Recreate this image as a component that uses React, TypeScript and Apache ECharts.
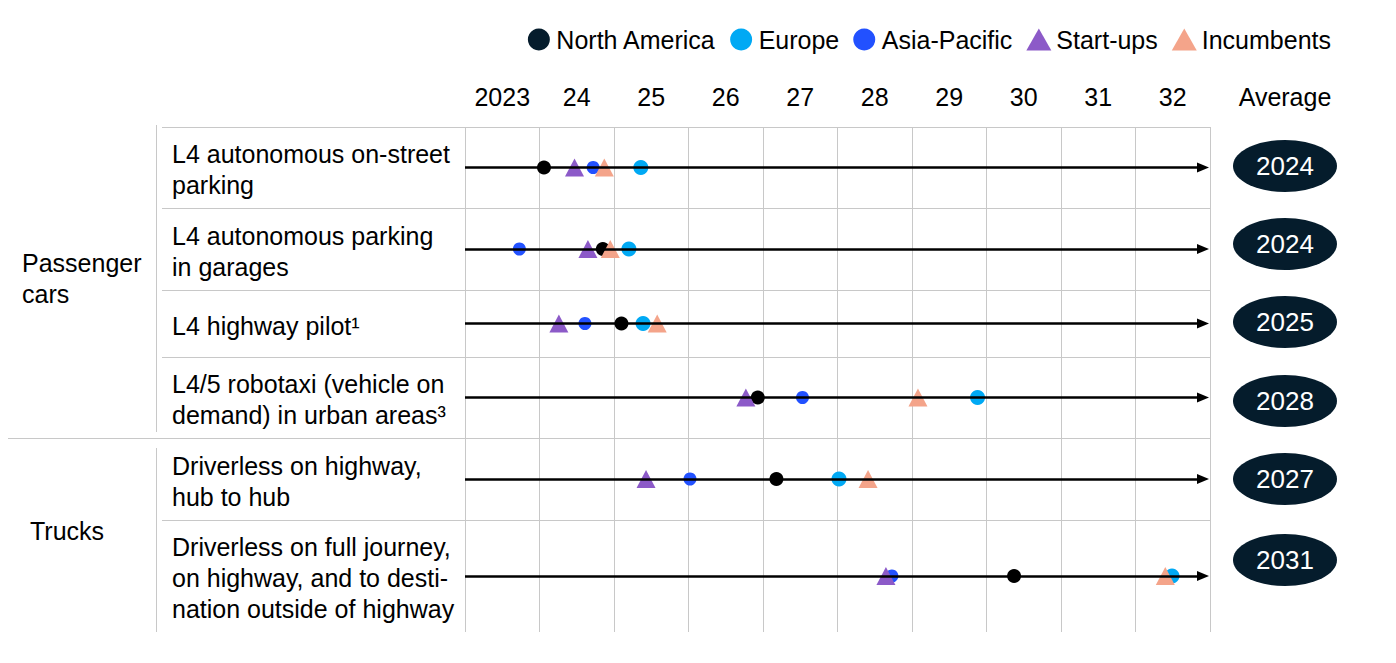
import React, { useEffect, useRef } from "react";
import * as echarts from "echarts";

// ---------- data ----------
const yearLabels = ["2023", "24", "25", "26", "27", "28", "29", "30", "31", "32"];
const rowLabels = [
  "L4 autonomous on-street\nparking",
  "L4 autonomous parking\nin garages",
  "L4 highway pilot¹",
  "L4/5 robotaxi (vehicle on\ndemand) in urban areas³",
  "Driverless on highway,\nhub to hub",
  "Driverless on full journey,\non highway, and to desti-\nnation outside of highway",
];
const groupLabels = ["Passenger\ncars", "Trucks"];
const groupRows = [
  [0, 3],
  [4, 5],
];
const northAmerica = [2024.06, 2024.85, 2025.1, 2026.93, 2027.18, 2030.37];
const europe = [2025.36, 2025.2, 2025.39, 2029.88, 2028.02, 2032.49];
const asiaPacific = [2024.72, 2023.73, 2024.61, 2027.53, 2026.02, 2028.73];
const startUps = [2024.47, 2024.65, 2024.26, 2026.77, 2025.43, 2028.65];
const incumbents = [2024.87, 2024.95, 2025.58, 2029.08, 2028.41, 2032.4];
const averages = ["2024", "2024", "2025", "2028", "2027", "2031"];

// ---------- layout ----------
const W = 1396;
const H = 663;
const plotLeft = 465;
const plotRight = 1210;
const plotTop = 127;
const rowHeights = [81, 82, 67, 81, 82, 112];
const totalH = rowHeights.reduce((a, b) => a + b, 0);
const plotBottom = plotTop + totalH;
const xMin = 2023;
const xMax = 2033;
const FONT = '"Liberation Sans", Arial, Helvetica, sans-serif';
const GRID = "#c8c8c8";
const NAVY = "#051c2c";
const badgeDy = [-1.5, -5, -1.5, 3.5, 0, -16];
const groupLabelX = [22, 30];

const rowStart = (i: number) => rowHeights.slice(0, i).reduce((a, b) => a + b, 0);
const rowCenter = (i: number) => rowStart(i) + rowHeights[i] / 2;

export default function App() {
  const ref = useRef<HTMLDivElement>(null);

  useEffect(() => {
    if (!ref.current) return;
    const chart = echarts.init(ref.current, null, { renderer: "svg" });

    const mk = (vals: number[]) => vals.map((v, i) => [v, rowCenter(i)]);

    const graphics: any[] = [];
    // top border
    graphics.push({
      type: "line",
      shape: { x1: 162, y1: plotTop + 0.5, x2: plotRight, y2: plotTop + 0.5 },
      style: { stroke: GRID, lineWidth: 1 },
    });
    // row separators
    for (let i = 1; i < rowHeights.length; i++) {
      const y = plotTop + rowStart(i) + 0.5;
      const isGroupBoundary = groupRows.some((g) => g[0] === i);
      graphics.push({
        type: "line",
        shape: { x1: isGroupBoundary ? 8 : 162, y1: y, x2: plotRight, y2: y },
        style: { stroke: GRID, lineWidth: 1 },
      });
    }
    // group vertical bars + labels
    groupRows.forEach((g, gi) => {
      const y0 = plotTop + rowStart(g[0]);
      const y1 = plotTop + rowStart(g[1]) + rowHeights[g[1]];
      graphics.push({
        type: "line",
        shape: { x1: 156.5, y1: gi === 0 ? y0 - 2 : y0 + 10, x2: 156.5, y2: gi === 0 ? y1 - 6 : y1 },
        style: { stroke: GRID, lineWidth: 1 },
      });
      graphics.push({
        type: "text",
        x: groupLabelX[gi],
        y: (y0 + y1) / 2 - 4,
        style: {
          text: groupLabels[gi],
          fill: "#000",
          fontSize: 25,
          fontFamily: FONT,
          align: "left",
          verticalAlign: "middle",
          lineHeight: 31,
        },
      });
    });
    // row labels
    rowLabels.forEach((t, i) => {
      graphics.push({
        type: "text",
        x: 172,
        y: plotTop + rowCenter(i) + 2,
        style: {
          text: t,
          fill: "#000",
          fontSize: 25,
          fontFamily: FONT,
          align: "left",
          verticalAlign: "middle",
          lineHeight: 31,
        },
      });
    });
    // Average header
    graphics.push({
      type: "text",
      x: 1285,
      y: 97,
      style: {
        text: "Average",
        fill: "#000",
        fontSize: 25,
        fontFamily: FONT,
        align: "center",
        verticalAlign: "middle",
      },
    });
    // badges
    averages.forEach((a, i) => {
      const cy = plotTop + rowCenter(i) + badgeDy[i];
      graphics.push({
        type: "ellipse",
        shape: { cx: 1285, cy, rx: 52, ry: 26 },
        style: { fill: NAVY },
      });
      graphics.push({
        type: "text",
        x: 1285,
        y: cy,
        style: {
          text: a,
          fill: "#fff",
          fontSize: 26,
          fontFamily: FONT,
          align: "center",
          verticalAlign: "middle",
        },
      });
    });

    const arrowEnd = xMax - 7 / ((plotRight - plotLeft) / (xMax - xMin));

    const option: any = {
      animation: false,
      backgroundColor: "#fff",
      textStyle: { fontFamily: FONT },
      grid: {
        left: plotLeft,
        right: W - plotRight,
        top: plotTop,
        bottom: H - plotBottom,
        containLabel: false,
      },
      legend: {
        right: 60,
        top: 22,
        itemWidth: 25,
        itemHeight: 22,
        itemGap: 14,
        textStyle: { fontSize: 25, color: "#000", fontFamily: FONT },
        data: [
          { name: "North America", icon: "circle", itemStyle: { color: NAVY } },
          { name: "Europe", icon: "circle" },
          { name: "Asia-Pacific", icon: "circle" },
          { name: "Start-ups", icon: "triangle" },
          { name: "Incumbents", icon: "triangle" },
        ],
        selectedMode: false,
      },
      xAxis: [
        {
          type: "value",
          min: xMin,
          max: xMax,
          interval: 1,
          position: "top",
          axisLine: { show: false },
          axisTick: { show: false },
          axisLabel: { show: false },
          splitLine: { show: true, lineStyle: { color: GRID, width: 1 } },
        },
        {
          type: "category",
          data: yearLabels,
          boundaryGap: true,
          position: "top",
          axisLine: { show: false },
          axisTick: { show: false },
          splitLine: { show: false },
          axisLabel: { fontSize: 25, color: "#000", margin: 18, fontFamily: FONT },
        },
      ],
      yAxis: {
        type: "value",
        inverse: true,
        min: 0,
        max: totalH,
        show: false,
      },
      graphic: graphics,
      series: [
        {
          name: "timeline",
          type: "scatter",
          data: [],
          z: 1,
          silent: true,
          markLine: {
            silent: true,
            symbol: ["none", "triangle"],
            symbolSize: [10, 12],
            label: { show: false },
            lineStyle: { color: "#000", width: 2.5, type: "solid" },
            emphasis: { disabled: true },
            data: rowLabels.map((_, i) => [
              { coord: [xMin, rowCenter(i)] },
              { coord: [arrowEnd, rowCenter(i)] },
            ]),
          },
        },
        {
          name: "North America",
          type: "scatter",
          symbol: "circle",
          symbolSize: 14,
          itemStyle: { color: "#000", opacity: 1 },
          data: mk(northAmerica),
          z: 3,
        },
        {
          name: "Europe",
          type: "scatter",
          symbol: "circle",
          symbolSize: 15,
          itemStyle: { color: "#00a9f4", opacity: 1 },
          data: mk(europe),
          z: 3,
        },
        {
          name: "Asia-Pacific",
          type: "scatter",
          symbol: "circle",
          symbolSize: 13,
          itemStyle: { color: "#2251ff", opacity: 1 },
          data: mk(asiaPacific),
          z: 3,
        },
        {
          name: "Start-ups",
          type: "scatter",
          symbol: "triangle",
          symbolSize: [19, 18],
          itemStyle: { color: "#8c5ac8", opacity: 1 },
          data: mk(startUps),
          z: 4,
        },
        {
          name: "Incumbents",
          type: "scatter",
          symbol: "triangle",
          symbolSize: [19, 18],
          itemStyle: { color: "#f4a48a", opacity: 1 },
          data: mk(incumbents),
          z: 4,
        },
      ],
    };

    chart.setOption(option);
    return () => chart.dispose();
  }, []);

  return (
    <div
      ref={ref}
      style={{ position: "fixed", left: 0, top: 0, width: W, height: H, background: "#fff" }}
    />
  );
}
